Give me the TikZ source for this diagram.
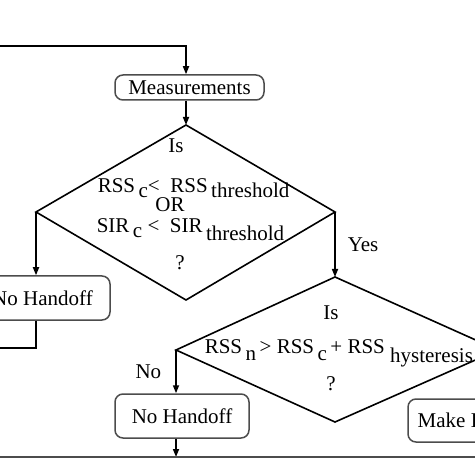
\documentclass[tikz,border=0pt]{standalone}
\usepackage{fontspec}
\setmainfont{Liberation Serif}
\usetikzlibrary{arrows.meta}
\newcommand{\lowsub}[2][2.5pt]{\raisebox{-#1}{#2}}
\tikzset{
  box/.style={draw=black!70, line width=0.75pt, rounded corners=4pt, inner sep=0pt, font=\fontsize{10.5}{12}\selectfont},
  arr/.style={-{Triangle[length=4pt,width=3pt]}},
  txt/.style={inner sep=0pt, font=\fontsize{10.5}{12}\selectfont},
}
\begin{document}
\begin{tikzpicture}
        [x=0.5pt,y=-0.5pt,line width=0.8pt]
        \useasboundingbox (0,0) rectangle (474,474);

        % boxes
        \node[box, minimum width=74.5pt, minimum height=12.5pt] (meas) at (189.5,87.5) {Measurements};
        \node[box, minimum width=67.5pt, minimum height=22pt] (nh1) at (42.5,298) {No Handoff};
        \node[box, minimum width=67pt, minimum height=22pt] (nh2) at (182,416) {No Handoff};
        \node[box, minimum width=71pt, minimum height=21.5pt] (mh) at (479,420.5) {Make Handoff};

        % first decision
        \coordinate (d1n) at (186,125);
        \coordinate (d1e) at (335,212);
        \coordinate (d1s) at (186,300);
        \coordinate (d1w) at (36,212);
        \draw (d1n) -- (d1e) -- (d1s) -- (d1w) -- cycle;
        \node[txt, anchor=base] (is1) at (176,153) {Is};
        \node[txt, anchor=base west] (rss1) at (97,193) {RSS\,\lowsub{c}<\ \ RSS\,\lowsub{threshold}};
        \node[txt, anchor=base] (or1) at (170,212) {OR};
        \node[txt, anchor=base west] (sir1) at (96,233) {SIR\,\lowsub{c}\ <\ \ SIR\,\lowsub[4pt]{threshold}};
        \node[txt, anchor=base] (q1) at (180,270) {?};

        % second decision
        \coordinate (d2n) at (335,277);
        \coordinate (d2e) at (498,350);
        \coordinate (d2s) at (335,422);
        \coordinate (d2w) at (176,350);
        \draw (d2n) -- (d2e) -- (d2s) -- (d2w) -- cycle;
        \node[txt, anchor=base] (is2) at (331,320) {Is};
        \node[txt, anchor=base west] (rss2) at (204,353) {RSS\,\lowsub[3.5pt]{n}\,> RSS\,\lowsub[3.5pt]{c}\,+ RSS\ \lowsub[4.5pt]{hysteresis}};
        \node[txt, anchor=base] (q2) at (331,390) {?};

        % loop lines
        \coordinate (top) at (0,46);
        \coordinate (back) at (0,348);
        \coordinate (bl) at (0,457);
        \coordinate (br) at (560,457);

        \draw[arr] (top) -| (d1n |- meas.north);
        \draw[arr] (d1n |- meas.south) -- (d1n);
        \draw[arr] (d1w) -- (d1w |- nh1.north);
        \draw (d1w |- nh1.south) |- (back);
        \draw[arr] (d1e) -- (d2n) node[txt, midway, right=6pt] (yes) {Yes};
        \draw[arr] (d2w) -- (d2w |- nh2.north) node[txt, midway, left=7pt] (no2) {No};
        \draw[arr] (d2w |- nh2.south) -- (d2w |- bl);
        \draw[arr] (mh.south) -- (mh.south |- bl);
        \draw[black!70, line width=1pt] (bl) -- (br);
\end{tikzpicture}
\end{document}
